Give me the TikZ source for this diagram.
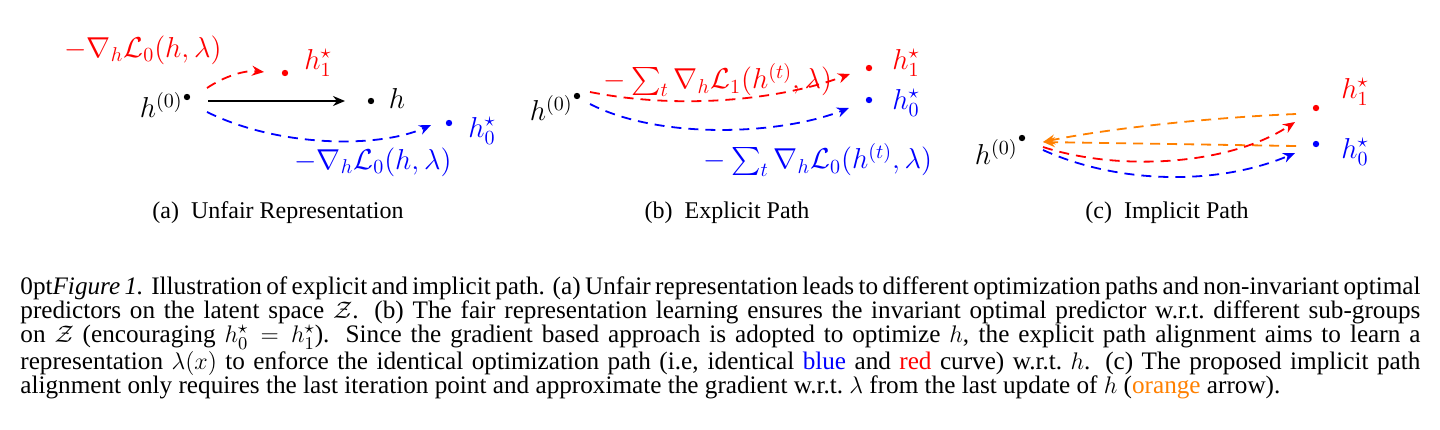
\documentclass[tikz,border=0pt]{standalone}
\usepackage{amsmath,amssymb}
\usepackage{fontspec}
\setmainfont{Liberation Serif}
\usetikzlibrary{arrows.meta}
\definecolor{myorange}{RGB}{255,128,0}
\tikzset{
  dot/.style={circle,fill,inner sep=0pt,minimum size=3.2pt},
  lbl/.style={font=\fontsize{14}{16}\selectfont,inner sep=0pt},
  dash arrow/.style={dashed,dash pattern=on 5pt off 3.5pt,line width=0.9pt,-{Stealth[length=6pt,width=5pt]}},
  sub/.style={font=\fontsize{12}{14}\selectfont,inner sep=0pt}
}
\begin{document}
\begin{tikzpicture}[x=0.5pt,y=-0.5pt]
\useasboundingbox (0,0) rectangle (1440,429);
% ---------- (a)
\node[dot] (a0) at (187,97) {};
\node[lbl,anchor=east] (a0l) at (183,105) {$h^{(0)}$};
\node[dot,red] (a1) at (285,73) {};
\node[lbl,red] (a1l) at (318,63) {$h_1^\star$};
\node[dot] (ah) at (371,101) {};
\node[lbl] (ahl) at (397,98) {$h$};
\node[dot,blue] (a2) at (449,123) {};
\node[lbl,blue] (a2l) at (482,131) {$h_0^\star$};
\coordinate (as) at (208,101);
\coordinate (ae) at (345,101);
\draw[line width=0.9pt,-{Stealth[length=6pt,width=5pt]}] (as) -- (ae);
\coordinate (ars) at (207,88);
\coordinate (are) at (264,72);
\draw[dash arrow,red] (ars) .. controls (225,76) and (245,70) .. (are);
\coordinate (abs) at (207,112);
\coordinate (abe) at (431,125);
\draw[dash arrow,blue] (abs) .. controls (280,148) and (380,148) .. (abe);
\node[lbl,red] (arl) at (143,50) {$-\nabla_h\mathcal{L}_0(h,\lambda)$};
\node[lbl,blue] (abl) at (373,162) {$-\nabla_h\mathcal{L}_0(h,\lambda)$};
% ---------- (b)
\node[dot] (b0) at (577,96) {};
\node[lbl,anchor=east] (b0l) at (573,108) {$h^{(0)}$};
\node[dot,red] (b1) at (869,68) {};
\node[lbl,red] (b1l) at (906,63) {$h_1^\star$};
\node[dot,blue] (b2) at (869,100) {};
\node[lbl,blue] (b2l) at (906,103) {$h_0^\star$};
\coordinate (brs) at (590,92);
\coordinate (bre) at (850,74);
\draw[dash arrow,red] (brs) .. controls (680,110) and (780,100) .. (bre);
\coordinate (bbs) at (590,104);
\coordinate (bbe) at (849,108);
\draw[dash arrow,blue] (bbs) .. controls (660,140) and (780,135) .. (bbe);
\node[lbl,red] (brl) at (718,80) {$-\sum_t\nabla_h\mathcal{L}_1(h^{(t)},\lambda)$};
\node[lbl,blue] (bbl) at (818,160) {$-\sum_t\nabla_h\mathcal{L}_0(h^{(t)},\lambda)$};
% ---------- (c)
\node[dot] (c0) at (1022,138) {};
\node[lbl,anchor=east] (c0l) at (1018,152) {$h^{(0)}$};
\node[dot,red] (c1) at (1316,108) {};
\node[lbl,red] (c1l) at (1355,92) {$h_1^\star$};
\node[dot,blue] (c2) at (1316,144) {};
\node[lbl,blue] (c2l) at (1355,152) {$h_0^\star$};
\coordinate (cl) at (1043,142);
\coordinate (co1) at (1296,114);
\coordinate (co2) at (1296,146);
\draw[dash arrow,myorange] (co1) .. controls (1200,118) and (1100,130) .. (cl);
\draw[dash arrow,myorange] (co2) -- (cl);
\coordinate (crs) at (1043,147);
\coordinate (cre) at (1295,122);
\draw[dash arrow,red] (crs) .. controls (1120,172) and (1230,165) .. (cre);
\coordinate (cbs) at (1043,150);
\coordinate (cbe) at (1295,153);
\draw[dash arrow,blue] (cbs) .. controls (1120,185) and (1220,185) .. (cbe);
% ---------- subcaptions
\node[sub] (sa) at (278,213) {(a)\enspace Unfair Representation};
\node[sub] (sb) at (727,213) {(b)\enspace Explicit Path};
\node[sub] (sc) at (1167,213) {(c)\enspace Implicit Path};
% ---------- caption
\node[anchor=north west,inner sep=0pt,text width=700pt,align=justify,
      font=\fontsize{12.6}{12}\selectfont\lineskiplimit=-10pt\lineskip=0pt] (cap) at (20,276) {%
\textit{Figure 1.} Illustration of explicit and implicit path. (a) Unfair representation leads to different optimization paths and non-invariant optimal\linebreak
predictors on the latent space $\mathcal{Z}$. (b) The fair representation learning ensures the invariant optimal predictor w.r.t.\ different sub-groups\linebreak
on $\mathcal{Z}$ (encouraging $h_0^\star=h_1^\star$). Since the gradient based approach is adopted to optimize $h$, the explicit path alignment aims to learn a\linebreak
representation $\lambda(x)$ to enforce the identical optimization path (i.e, identical \textcolor{blue}{blue} and \textcolor{red}{red} curve) w.r.t.\ $h$. (c) The proposed implicit path\linebreak
alignment only requires the last iteration point and approximate the gradient w.r.t.\ $\lambda$ from the last update of $h$ (\textcolor{myorange}{orange} arrow).};
\end{tikzpicture}
\end{document}
